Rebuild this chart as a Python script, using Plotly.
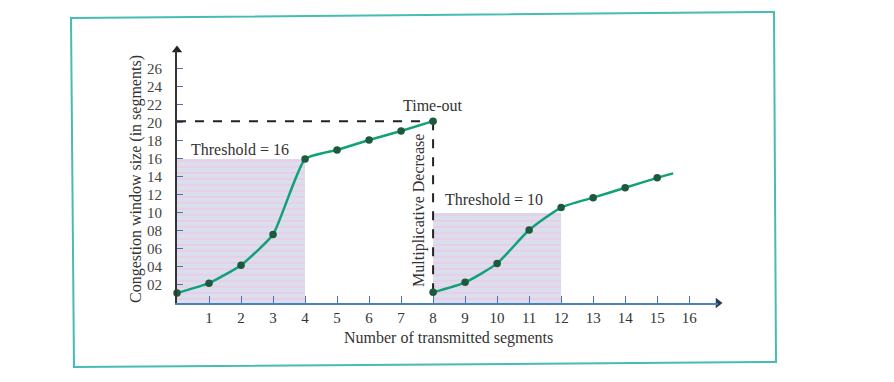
import plotly.graph_objects as go

# ---- data ----
seg1_x = [0, 1, 2, 3, 4, 5, 6, 7, 8]
seg1_y = [1.1, 2.2, 4.2, 7.6, 16.0, 17.0, 18.1, 19.1, 20.2]
seg2_x = [8, 9, 10, 11, 12, 13, 14, 15]
seg2_y = [1.2, 2.3, 4.4, 8.1, 10.6, 11.7, 12.8, 13.9]
seg2_tail_x = [15.5]
seg2_tail_y = [14.4]
threshold_vals = [16, 10]
threshold_start = [0, 8]
threshold_end = [4, 12]
timeout_x = 8
timeout_y = 20.2
x_ticks = list(range(1, 17))
y_ticks = list(range(2, 27, 2))
y_tick_labels = ["%02d" % v for v in y_ticks]

X_MAX = 16.9
Y_MAX = 28.1
FONT = "Liberation Serif"
LINE_C = "#12a079"
MARK_C = "#1d5a3c"

# page has an 8px body margin, so the figure is laid out in page px - 8
OFF = 8
L_PX, R_PX, T_PX, B_PX = 177, 718, 50, 303   # plot area in page pixels
W, H = 894 - OFF, 382 - OFF
PW, PH = R_PX - L_PX, B_PX - T_PX

def px(x):
    return (x - L_PX) / PW
def py(y):
    return (B_PX - y) / PH

fig = go.Figure()

# shaded threshold regions
for xs, xe, th in zip(threshold_start, threshold_end, threshold_vals):
    fig.add_trace(go.Scatter(
        x=[xs, xe, xe, xs, xs], y=[0, 0, th, th, 0],
        fill="toself", mode="lines", line=dict(width=0),
        fillcolor="#dedcef",
        fillpattern=dict(shape="-", bgcolor="#dadff0", fgcolor="#f0c4d6",
                         size=6, solidity=0.4),
        hoverinfo="skip", showlegend=False))

# dashed time-out lines
fig.add_trace(go.Scatter(x=[0, timeout_x], y=[timeout_y, timeout_y], mode="lines",
                         line=dict(color="#222", width=2, dash="dash"),
                         showlegend=False, hoverinfo="skip"))
fig.add_trace(go.Scatter(x=[timeout_x, timeout_x], y=[timeout_y, seg2_y[0]], mode="lines",
                         line=dict(color="#222", width=2, dash="dash"),
                         showlegend=False, hoverinfo="skip"))

# curves
fig.add_trace(go.Scatter(x=seg1_x, y=seg1_y, mode="lines",
                         line=dict(color=LINE_C, width=2.5, shape="spline", smoothing=0.45),
                         showlegend=False))
fig.add_trace(go.Scatter(x=seg2_x + seg2_tail_x, y=seg2_y + seg2_tail_y, mode="lines",
                         line=dict(color=LINE_C, width=2.5, shape="spline", smoothing=0.6),
                         showlegend=False))
fig.add_trace(go.Scatter(x=seg1_x + seg2_x, y=seg1_y + seg2_y, mode="markers",
                         marker=dict(color=MARK_C, size=7.5), showlegend=False, cliponaxis=False))

# axis arrowheads
fig.add_trace(go.Scatter(x=[0], y=[Y_MAX], mode="markers", cliponaxis=False,
                         marker=dict(symbol="triangle-up", size=9, color="#222"),
                         showlegend=False, hoverinfo="skip"))
fig.add_trace(go.Scatter(x=[X_MAX], y=[0], mode="markers", cliponaxis=False,
                         marker=dict(symbol="triangle-right", size=9, color="#2a3a5a"),
                         showlegend=False, hoverinfo="skip"))

# annotations
tf = dict(family=FONT, size=16, color="#333")
fig.add_annotation(x=timeout_x, y=21.9, text="Time-out", showarrow=False, font=tf)
fig.add_annotation(x=1.97, y=17.0, text="Threshold = 16", showarrow=False, font=tf)
fig.add_annotation(x=9.9, y=11.5, text="Threshold = 10", showarrow=False, font=tf)
fig.add_annotation(x=7.58, y=10.3, text="Multiplicative Decrease", showarrow=False,
                   textangle=-90, font=tf)
fig.add_annotation(xref="paper", yref="paper", x=px(136), y=py(179),
                   xanchor="center", yanchor="middle",
                   text="Congestion window size (in segments)", textangle=-90,
                   showarrow=False, font=tf)
fig.add_annotation(xref="paper", yref="paper", x=px(448), y=py(338),
                   xanchor="center", yanchor="middle",
                   text="Number of transmitted segments", showarrow=False, font=tf)

# outer frame (slightly skewed like the scan)
path = "M {} {} L {} {} L {} {} L {} {} Z".format(
    px(71), py(18), px(774), py(12), px(776), py(362), px(74), py(367))
fig.add_shape(type="path", path=path, xref="paper", yref="paper",
              line=dict(color="#45bdb3", width=2))

fig.update_xaxes(range=[0, X_MAX], tickvals=x_ticks, ticktext=[str(v) for v in x_ticks],
                 ticks="inside", ticklen=7, tickcolor="#4f6fa8", tickwidth=1,
                 showline=True, linecolor="#4d7fb8", linewidth=2,
                 showgrid=False, zeroline=False,
                 tickfont=dict(family=FONT, size=15, color="#333"))
fig.update_yaxes(range=[0, Y_MAX], tickvals=y_ticks, ticktext=y_tick_labels,
                 ticks="inside", ticklen=6, tickcolor="#4f6fa8", tickwidth=1,
                 showline=True, linecolor="#333", linewidth=2,
                 showgrid=False, zeroline=False, ticklabelstandoff=10,
                 tickfont=dict(family=FONT, size=15, color="#444"))

fig.update_layout(width=W, height=H, autosize=False,
                  margin=dict(l=L_PX - OFF, r=W - (R_PX - OFF), t=T_PX - OFF,
                              b=H - (B_PX - OFF)),
                  paper_bgcolor="white", plot_bgcolor="white")

fig.write_html("out.html")
